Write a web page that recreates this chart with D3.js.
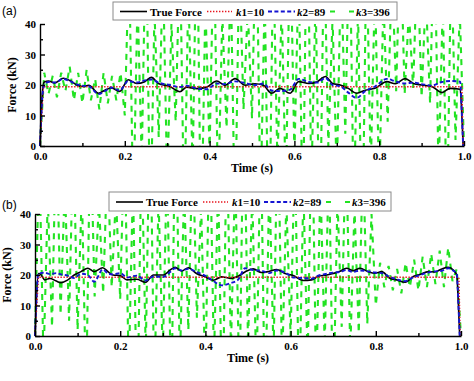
<!DOCTYPE html>
<html>
<head>
<meta charset="utf-8">
<script src="https://cdn.jsdelivr.net/npm/d3@7"></script>
<style>
  html, body { margin: 0; padding: 0; background: #fff; }
  svg { display: block; font-family: "Liberation Serif", "Times New Roman", serif; font-weight: bold; }
  .tag { font-family: "Liberation Sans", Arial, sans-serif; font-weight: normal; font-size: 12px; }
  .axis text { font-size: 11px; font-family: "Liberation Serif", serif; font-weight: bold; fill: #000; }
  .axis path, .axis line { stroke: #000; stroke-width: 1.4; }
</style>
</head>
<body>
<svg id="chart" width="474" height="381"></svg>
<script>
"use strict";

/* time samples (s) for true force / k2 traces */
const timeA = [0, 0.006, 0.01, 0.02, 0.035, 0.055, 0.07, 0.087, 0.1, 0.115,
  0.138, 0.153, 0.169, 0.188, 0.208, 0.228, 0.247, 0.263, 0.279, 0.306,
  0.33, 0.346, 0.37, 0.393, 0.417, 0.436, 0.46, 0.484, 0.507, 0.527,
  0.546, 0.566, 0.59, 0.61, 0.634, 0.654, 0.673, 0.69, 0.708, 0.727,
  0.747, 0.767, 0.79, 0.818, 0.838, 0.861, 0.881, 0.9, 0.924, 0.948,
  0.967, 0.991, 0.995, 0.998];
const trueA = [0, 18, 21.0, 21.3, 20.7, 22.2, 21.5, 20.0, 19.5, 19.9,
  17.3, 18.3, 19.0, 17.9, 21.7, 20.5, 21.1, 22.5, 20.5, 19.5,
  17.8, 19.3, 18.8, 19.3, 21.3, 19.9, 22.1, 19.9, 20.4, 19.9,
  17.3, 18.9, 17.3, 21.1, 20.5, 21.1, 22.8, 20.5, 20.0, 18.9,
  17.3, 18.3, 18.9, 21.1, 20.4, 22.1, 20.5, 20.0, 19.5, 17.5,
  18.9, 18.6, 10, 0];
const k2A = [0, 17, 20.0, 21.0, 20.8, 22.0, 21.3, 20.2, 19.8, 19.6,
  17.0, 18.0, 19.2, 18.2, 21.3, 20.8, 21.5, 21.8, 20.8, 20.0,
  19.3, 19.8, 18.8, 18.6, 20.5, 20.3, 21.2, 20.6, 20.0, 20.5,
  18.2, 18.0, 18.5, 22.0, 21.0, 20.8, 22.3, 20.0, 19.6, 17.5,
  15.8, 18.0, 19.5, 22.0, 21.2, 20.5, 20.8, 20.3, 19.8, 21.0,
  21.3, 21.1, 10, 0];

const timeB = [0, 0.008, 0.0125, 0.023, 0.035, 0.05, 0.061, 0.077, 0.092, 0.108,
  0.124, 0.139, 0.159, 0.172, 0.183, 0.2, 0.216, 0.239, 0.259, 0.278,
  0.302, 0.317, 0.329, 0.344, 0.36, 0.379, 0.399, 0.419, 0.438, 0.458,
  0.477, 0.493, 0.512, 0.532, 0.55, 0.567, 0.587, 0.606, 0.63, 0.649,
  0.665, 0.685, 0.7, 0.716, 0.731, 0.747, 0.763, 0.782, 0.798, 0.814,
  0.833, 0.849, 0.869, 0.888, 0.904, 0.923, 0.939, 0.955, 0.97, 0.982,
  0.99, 0.994, 0.997];
const trueB = [0, 20.5, 20.3, 18.4, 18.9, 18.0, 17.5, 18.4, 20.0, 21.1,
  22.2, 21.1, 22.4, 21.0, 20.0, 19.8, 18.4, 18.6, 17.6, 20.0,
  20.0, 21.6, 22.5, 21.3, 22.4, 20.5, 19.4, 18.3, 19.4, 18.9,
  19.6, 21.0, 22.0, 20.8, 21.2, 21.8, 20.5, 19.8, 18.2, 18.4,
  19.6, 20.0, 20.5, 21.2, 22.2, 21.4, 22.2, 21.1, 20.6, 21.1,
  18.9, 18.4, 17.6, 19.5, 20.2, 21.1, 21.0, 22.0, 22.5, 21.6,
  20.0, 10, 0];
const k2B = [0, 20.5, 20.6, 20.8, 20.3, 20.6, 20.2, 19.8, 19.0, 20.4,
  20.0, 17.8, 21.8, 20.4, 20.2, 20.6, 19.2, 19.8, 18.2, 19.5,
  19.4, 21.0, 22.2, 21.5, 22.0, 21.0, 19.8, 18.0, 16.6, 17.3,
  18.5, 22.2, 21.6, 21.4, 20.6, 21.5, 20.8, 19.2, 19.0, 18.8,
  19.8, 20.4, 20.8, 21.0, 21.6, 21.0, 21.5, 21.2, 20.8, 20.6,
  19.4, 18.6, 18.0, 19.2, 20.0, 20.8, 21.2, 21.4, 22.2, 21.4,
  20.4, 10, 0];

/* k1 estimate is flat */
const k1Time = [0, 0.008, 0.995, 0.998];
const k1A = [0, 19.4, 19.4, 0];
const k1B = [0, 19.3, 19.3, 0];

/* k3 estimate, sampled every 10 ms */
const k3Time = [0, 0.01, 0.02, 0.03, 0.04, 0.05, 0.06, 0.07, 0.08, 0.09,
  0.10, 0.11, 0.12, 0.13, 0.14, 0.15, 0.16, 0.17, 0.18, 0.19,
  0.20, 0.21, 0.22, 0.23, 0.24, 0.25, 0.26, 0.27, 0.28, 0.29,
  0.30, 0.31, 0.32, 0.33, 0.34, 0.35, 0.36, 0.37, 0.38, 0.39,
  0.40, 0.41, 0.42, 0.43, 0.44, 0.45, 0.46, 0.47, 0.48, 0.49,
  0.50, 0.51, 0.52, 0.53, 0.54, 0.55, 0.56, 0.57, 0.58, 0.59,
  0.60, 0.61, 0.62, 0.63, 0.64, 0.65, 0.66, 0.67, 0.68, 0.69,
  0.70, 0.71, 0.72, 0.73, 0.74, 0.75, 0.76, 0.77, 0.78, 0.79,
  0.80, 0.81, 0.82, 0.83, 0.84, 0.85, 0.86, 0.87, 0.88, 0.89,
  0.90, 0.91, 0.92, 0.93, 0.94, 0.95, 0.96, 0.97, 0.98, 0.99, 1.00];
const k3A = [0, 24, 17, 23, 16, 24, 18, 26, 15, 24,
  14, 25, 15, 22, 12, 24, 14, 23, 15, 24,
  10, 62, -22, 48, -5, 75, -30, 44, 3, 58,
  -12, 40, 8, 66, -25, 52, -8, 80, -35, 47,
  -2, 70, -18, 43, 6, 55, -28, 62, 12, 45,
  9, 78, -20, 50, -40, 64, -6, 46, -15, 72,
  -3, 57, -26, 85, -12, 49, -33, 68, 0, 42,
  -10, 60, 4, 74, -22, 45, -38, 66, -8, 53,
  -14, 48, 8, 58, 18, 70, 17, 44, 19, 62,
  16, 50, 14, 76, -10, 47, -25, 64, 2, 44, 0];
const k3B = [0, 60, -8, 45, 3, 72, 7, 50, 5, 66,
  2, 48, -20, 70, 13, 44, 14, 58, 16, 46,
  12, 68, -12, 50, -30, 62, -5, 78, -18, 45,
  -6, 58, -25, 82, -10, 48, 2, 64, 6, 43,
  -15, 72, -8, 50, -32, 66, -4, 55, -20, 80,
  -2, 46, -14, 68, -28, 52, -6, 74, -10, 44,
  0, 62, -22, 48, -8, 76, -15, 50, -3, 58,
  -26, 45, 3, 66, -5, 42, 1, 60, 4, 40,
  10, 24, 16, 23, 15, 22, 14, 24, 16, 25,
  15, 26, 16, 27, 17, 28, 16, 29, 18, 22, 0];

const xMajor = [0, 0.2, 0.4, 0.6, 0.8, 1.0];
const xMinor = [0.1, 0.3, 0.5, 0.7, 0.9];
const yMajor = [0, 10, 20, 30, 40];
const yMinor = [5, 15, 25, 35];

const STYLE = {
  truth: { color: "#000", width: 1.6, dash: null },
  k1: { color: "#e8141e", width: 1.5, dash: "1.4,1.6" },
  k2: { color: "#1414d2", width: 1.9, dash: "4,2.4" },
  k3: { color: "#22e322", width: 2.1, dash: "6,6" },
};

const svg = d3.select("#chart");

drawPanel({
  id: "a", tag: "(a)", tagY: 15,
  left: 40, right: 464, top: 24, bottom: 146,
  legend: { x: 113, y: 2, w: 284, h: 18 },
  truth: [timeA, trueA], k1: [k1Time, k1A], k2: [timeA, k2A], k3: [k3Time, k3A],
});
drawPanel({
  id: "b", tag: "(b)", tagY: 209,
  left: 35, right: 461, top: 214, bottom: 336,
  legend: { x: 109, y: 192, w: 282, h: 19 },
  truth: [timeB, trueB], k1: [k1Time, k1B], k2: [timeB, k2B], k3: [k3Time, k3B],
});

function drawPanel(p) {
  const x = d3.scaleLinear([0, 1], [p.left, p.right]);
  const y = d3.scaleLinear([0, 40], [p.bottom, p.top]);
  const g = svg.append("g");

  g.append("defs").append("clipPath").attr("id", `clip-${p.id}`)
    .append("rect")
    .attr("x", p.left - 1).attr("y", p.top)
    .attr("width", p.right - p.left + 3).attr("height", p.bottom - p.top);

  const plot = g.append("g").attr("clip-path", `url(#clip-${p.id})`);

  const series = [
    ["k3", d3.curveLinear],
    ["truth", d3.curveMonotoneX],
    ["k1", d3.curveLinear],
    ["k2", d3.curveMonotoneX],
  ];
  for (const [key, curve] of series) {
    const [ts, vs] = p[key];
    const st = STYLE[key];
    const line = d3.line().x((d) => x(d[0])).y((d) => y(d[1])).curve(curve);
    plot.append("path")
      .datum(d3.zip(ts, vs))
      .attr("d", line)
      .attr("fill", "none")
      .attr("stroke", st.color)
      .attr("stroke-width", st.width)
      .attr("stroke-dasharray", st.dash);
  }

  /* axes: ticks point inward */
  g.append("g").attr("class", "axis")
    .attr("transform", `translate(0,${p.bottom})`)
    .call(d3.axisBottom(x).tickValues(xMinor).tickSize(-3).tickSizeOuter(0).tickFormat(""))
    .call((s) => s.select(".domain").remove());
  g.append("g").attr("class", "axis")
    .attr("transform", `translate(0,${p.bottom})`)
    .call(d3.axisBottom(x).tickValues(xMajor).tickSize(-5).tickSizeOuter(0)
      .tickPadding(6).tickFormat(d3.format(".1f")));
  g.append("g").attr("class", "axis")
    .attr("transform", `translate(${p.left},0)`)
    .call(d3.axisLeft(y).tickValues(yMinor).tickSize(-3).tickSizeOuter(0).tickFormat(""))
    .call((s) => s.select(".domain").remove());
  g.append("g").attr("class", "axis")
    .attr("transform", `translate(${p.left},0)`)
    .call(d3.axisLeft(y).tickValues(yMajor).tickSize(-5).tickSizeOuter(0).tickPadding(4));

  g.append("text")
    .attr("x", (p.left + p.right) / 2).attr("y", p.bottom + 26)
    .attr("text-anchor", "middle").attr("font-size", 12)
    .text("Time (s)");
  g.append("text")
    .attr("transform", `translate(${p.left - 24},${(p.top + p.bottom) / 2}) rotate(-90)`)
    .attr("text-anchor", "middle").attr("font-size", 12)
    .text("Force (kN)");

  g.append("text").attr("class", "tag").attr("x", 2).attr("y", p.tagY).text(p.tag);

  /* legend */
  const L = p.legend;
  const lg = g.append("g").attr("transform", `translate(${L.x},${L.y})`);
  lg.append("rect")
    .attr("width", L.w).attr("height", L.h)
    .attr("fill", "#fff").attr("stroke", "#8a8a8a").attr("stroke-width", 1);
  const cy = L.h / 2 + 0.5;
  const items = [
    { key: "truth", x0: 7, x1: 34, tx: 37, label: ["", "True Force"] },
    { key: "k1", x0: 94, x1: 119, tx: 123, label: ["k", "1=10"] },
    { key: "k2", x0: 155, x1: 182, tx: 184, label: ["k", "2=89"] },
    { key: "k3", x0: 217, x1: 242, tx: 243, label: ["k", "3=396"], dash: "5,14" },
  ];
  for (const it of items) {
    const st = STYLE[it.key];
    lg.append("line")
      .attr("x1", it.x0).attr("x2", it.x1).attr("y1", cy).attr("y2", cy)
      .attr("stroke", st.color).attr("stroke-width", st.width)
      .attr("stroke-dasharray", it.dash || st.dash);
    const t = lg.append("text").attr("x", it.tx).attr("y", cy + 4).attr("font-size", 11);
    if (it.label[0]) t.append("tspan").attr("font-style", "italic").text(it.label[0]);
    t.append("tspan").text(it.label[1]);
  }
}
</script>
</body>
</html>
